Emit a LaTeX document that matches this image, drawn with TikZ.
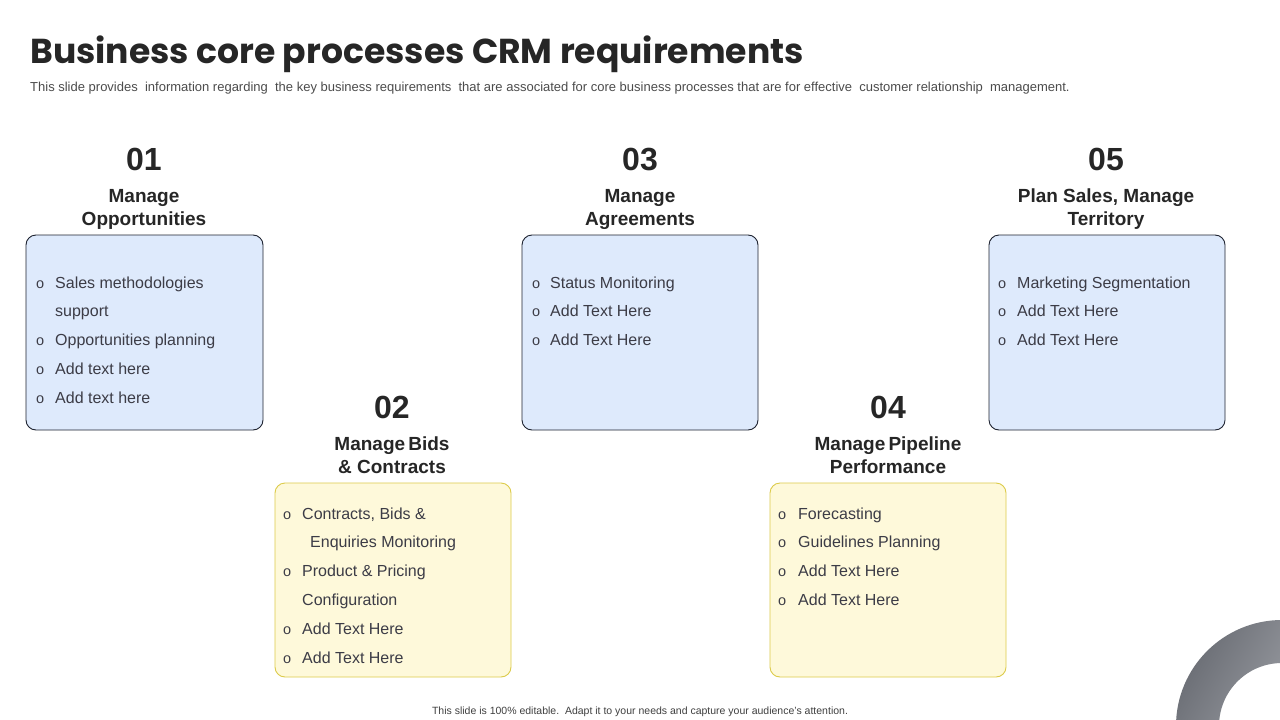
\documentclass[tikz,border=0pt]{standalone}
\usepackage{fontspec}
\setmainfont{Liberation Sans}
\newfontfamily\titlefont{Poppins}
\usetikzlibrary{positioning}
\definecolor{bluefill}{HTML}{DEEAFC}
\definecolor{blueline}{HTML}{1E2330}
\definecolor{yelfill}{HTML}{FEF9DA}
\definecolor{yelline}{HTML}{DCCB4A}
\definecolor{txt}{HTML}{3C3C46}
\definecolor{dark}{HTML}{262626}
\definecolor{ringdark}{HTML}{6E7178}
\definecolor{ringlight}{HTML}{C9CBD0}
\tikzset{
  bluebox/.style={draw=blueline, fill=bluefill, line width=0.9pt, rounded corners=10pt},
  yelbox/.style={draw=yelline, fill=yelfill, line width=0.9pt, rounded corners=10pt},
  num/.style={font=\fontsize{32}{34}\selectfont\bfseries, text=dark, anchor=base, inner sep=0pt},
  head/.style={font=\fontsize{19}{21}\selectfont\bfseries, text=dark, anchor=base, inner sep=0pt},
  item/.style={font=\fontsize{16}{18}\selectfont, text=txt, anchor=base west, inner sep=0pt},
  bul/.style={font=\fontsize{14.5}{18}\selectfont, text=txt, anchor=base west, inner sep=0pt},
}
\begin{document}
\begin{tikzpicture}[x=1pt,y=-1pt]
\useasboundingbox (0,0) rectangle (1280,720);
\fill[white] (0,0) rectangle (1280,720);
% title
\node[anchor=base west, inner sep=0pt, font=\titlefont\fontsize{34.6}{40}\selectfont\bfseries, text=dark] (title) at (30,63) {Business core processes CRM requirements};
\node[anchor=base west, inner sep=0pt, font=\fontsize{13}{14}\selectfont, text=black!70] (sub) at (30,91.5) {This slide provides\ \ information regarding\ \ the key business requirements\ \ that are associated for core business processes that are for effective\ \ customer relationship\ \ management.};
% boxes
\draw[bluebox] (26,235) rectangle (263,430);
\node[inner sep=0pt] (b1) at (144.5,332.5) {};
\draw[bluebox] (522,235) rectangle (758,430);
\node[inner sep=0pt] (b3) at (640,332.5) {};
\draw[bluebox] (989,235) rectangle (1225,430);
\node[inner sep=0pt] (b5) at (1107,332.5) {};
\draw[yelbox] (275,483) rectangle (511,677);
\node[inner sep=0pt] (b2) at (393,580) {};
\draw[yelbox] (770,483) rectangle (1006,677);
\node[inner sep=0pt] (b4) at (888,580) {};
% numbers and headings
\node[num] (n1) at (144,170.5) {01};
\node[head] (h1a) at (144,202) {Manage};
\node[head] (h1b) at (144,225) {Opportunities};
\node[num] (n2) at (392,418.5) {02};
\node[head] (h2a) at (392,450) {Manage\,Bids};
\node[head] (h2b) at (392,473) {\& Contracts};
\node[num] (n3) at (640,170.5) {03};
\node[head] (h3a) at (640,202) {Manage};
\node[head] (h3b) at (640,225) {Agreements};
\node[num] (n4) at (888,418.5) {04};
\node[head] (h4a) at (888,450) {Manage\,Pipeline};
\node[head] (h4b) at (888,473) {Performance};
\node[num] (n5) at (1106,170.5) {05};
\node[head] (h5a) at (1106,202) {Plan Sales, Manage};
\node[head] (h5b) at (1106,225) {Territory};
% box 1 items
\foreach \y in {288,345,374,403} \node[bul] at (36,\y) {o};
\node[item] (i11) at (55,288) {Sales methodologies};
\node[item] (i12) at (55,316) {support};
\node[item] (i13) at (55,345) {Opportunities planning};
\node[item] (i14) at (55,374) {Add text\ here};
\node[item] (i15) at (55,403) {Add text\ here};
% box 3 items
\foreach \y in {288,316,345} \node[bul] at (532,\y) {o};
\node[item] (i31) at (550,288) {Status Monitoring};
\node[item] (i32) at (550,316) {Add Text Here};
\node[item] (i33) at (550,345) {Add Text Here};
% box 5 items
\foreach \y in {288,316,345} \node[bul] at (998,\y) {o};
\node[item] (i51) at (1017,288) {Marketing Segmentation};
\node[item] (i52) at (1017,316) {Add Text Here};
\node[item] (i53) at (1017,345) {Add Text Here};
% box 2 items
\foreach \y in {519,576,634,663} \node[bul] at (283,\y) {o};
\node[item] (i21) at (302,519) {Contracts, Bids \&};
\node[item] (i22) at (310,547) {Enquiries Monitoring};
\node[item] (i23) at (302,576) {Product \& Pricing};
\node[item] (i24) at (302,605) {Configuration};
\node[item] (i25) at (302,634) {Add Text Here};
\node[item] (i26) at (302,663) {Add Text Here};
% box 4 items
\foreach \y in {519,547,576,605} \node[bul] at (778,\y) {o};
\node[item] (i41) at (798,519) {Forecasting};
\node[item] (i42) at (798,547) {Guidelines Planning};
\node[item] (i43) at (798,576) {Add Text Here};
\node[item] (i44) at (798,605) {Add Text Here};
% ring
\begin{scope}
\clip (0,0) rectangle (1280,720);
\shade[left color=ringdark, right color=ringlight, shading angle=60, even odd rule] (1282,726) circle (106) (1282,726) circle (63);
\end{scope}
% footer
\node[anchor=base, inner sep=0pt, font=\fontsize{10.5}{12}\selectfont, text=black!75] (foot) at (640,714) {This slide is 100\% editable.\ \ Adapt it to your needs and capture your audience's attention.};
\end{tikzpicture}
\end{document}
